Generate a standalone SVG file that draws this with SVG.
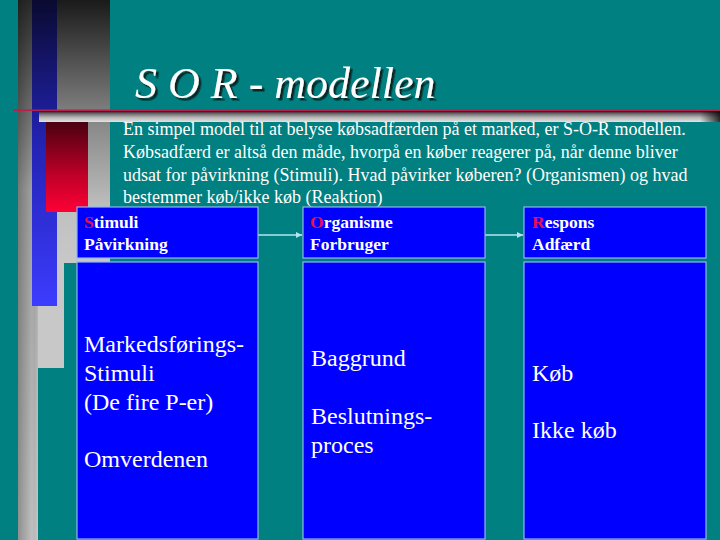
<svg xmlns="http://www.w3.org/2000/svg" width="720" height="540" viewBox="0 0 720 540">
  <defs>
    <linearGradient id="gCol" x1="0" y1="0" x2="0" y2="1">
      <stop offset="0" stop-color="#2a2a2a"/>
      <stop offset="0.35" stop-color="#a0a0a0"/>
      <stop offset="1" stop-color="#c0c0c0"/>
    </linearGradient>
    <linearGradient id="gColH" x1="0" y1="0" x2="1" y2="0">
      <stop offset="0" stop-color="#000" stop-opacity="0.25"/>
      <stop offset="0.7" stop-color="#000" stop-opacity="0"/>
      <stop offset="1" stop-color="#fff" stop-opacity="0.15"/>
    </linearGradient>
    <linearGradient id="gGray" x1="0" y1="0" x2="0" y2="1">
      <stop offset="0" stop-color="#1a1a1a"/>
      <stop offset="0.45" stop-color="#858585"/>
      <stop offset="0.8" stop-color="#c0c0c0"/>
      <stop offset="1" stop-color="#c8c8c8"/>
    </linearGradient>
    <linearGradient id="gBlue" x1="0" y1="0" x2="0" y2="1">
      <stop offset="0" stop-color="#0a0a30"/>
      <stop offset="0.45" stop-color="#2222b0"/>
      <stop offset="1" stop-color="#3c3cff"/>
    </linearGradient>
    <linearGradient id="gRed" x1="0" y1="0" x2="0" y2="1">
      <stop offset="0" stop-color="#4a0010"/>
      <stop offset="0.6" stop-color="#c00028"/>
      <stop offset="1" stop-color="#ff0036"/>
    </linearGradient>
    <linearGradient id="gBar" x1="0" y1="0" x2="0" y2="1">
      <stop offset="0" stop-color="#3a0a22"/>
      <stop offset="0.25" stop-color="#6e6e6e"/>
      <stop offset="0.6" stop-color="#b8b8b8"/>
      <stop offset="1" stop-color="#e4e4e4"/>
    </linearGradient>
    <linearGradient id="gBarEnd" x1="0" y1="0" x2="1" y2="0">
      <stop offset="0" stop-color="#000" stop-opacity="0"/>
      <stop offset="1" stop-color="#000" stop-opacity="0.8"/>
    </linearGradient>
    <filter id="shadow" x="-5%" y="-20%" width="115%" height="150%">
      <feDropShadow dx="2.5" dy="2.5" stdDeviation="0.6" flood-color="#101010" flood-opacity="0.8"/>
    </filter>
    <marker id="arr" viewBox="0 0 10 10" refX="10" refY="5" markerWidth="6" markerHeight="6" markerUnits="userSpaceOnUse" orient="auto">
      <path d="M0,0 L10,5 L0,10 z" fill="#b4e4f0"/>
    </marker>
  </defs>
  <style>
    .box { fill: #0000ff; stroke: #8fb8ee; stroke-width: 1.2; }
    .head { font-family: "Liberation Serif", "Times New Roman", serif; font-weight: bold; font-size: 17.5px; fill: #ffffff; }
    .red { fill: #e8104a; }
    .body { font-family: "Liberation Serif", "Times New Roman", serif; font-size: 24px; fill: #ffffff; }
    .intro { font-family: "Liberation Serif", "Times New Roman", serif; font-size: 18px; fill: #ffffff; }
    .title { font-family: "Liberation Serif", "Times New Roman", serif; font-style: italic; font-size: 44px; fill: #ffffff; }
    .conn { stroke: #b4e4f0; stroke-width: 1.5; fill: none; }
  </style>

  <rect x="0" y="0" width="720" height="540" fill="#008080"/>

  <g id="decoration">
    <rect x="25" y="0" width="85" height="263" fill="url(#gGray)"/>
    <rect x="34" y="263" width="30" height="105" fill="#c8c8c8"/>
    <rect x="18" y="0" width="20" height="540" fill="url(#gCol)"/>
    <rect x="18" y="0" width="20" height="540" fill="url(#gColH)"/>
    <rect x="32" y="0" width="25" height="306" fill="url(#gBlue)"/>
    <rect x="46" y="122" width="42" height="90" fill="url(#gRed)"/>
    <rect x="13" y="109.5" width="707" height="1.6" fill="#b8204c"/>
    <rect x="39" y="111" width="681" height="11" fill="url(#gBar)"/>
    <rect x="700" y="111" width="20" height="11" fill="url(#gBarEnd)"/>
  </g>

  <g id="title">
    <text class="title" x="135" y="98" filter="url(#shadow)">S O R - modellen</text>
  </g>

  <g id="intro">
    <text class="intro" x="123" y="135">En simpel model til at belyse købsadfærden på et marked, er S-O-R modellen.</text>
    <text class="intro" x="123" y="158">Købsadfærd er altså den måde, hvorpå en køber reagerer på, når denne bliver</text>
    <text class="intro" x="123" y="180.5">udsat for påvirkning (Stimuli). Hvad påvirker køberen? (Organismen) og hvad</text>
    <text class="intro" x="123" y="202.5">bestemmer køb/ikke køb (Reaktion)</text>
  </g>

  <g id="connectors">
    <line class="conn" x1="258" y1="235" x2="302" y2="235" marker-end="url(#arr)"/>
    <line class="conn" x1="485" y1="235" x2="523" y2="235" marker-end="url(#arr)"/>
  </g>

  <g id="node-stimuli">
    <rect class="box" x="77" y="207" width="181" height="51"/>
    <text class="head" x="84" y="228"><tspan class="red">S</tspan>timuli</text>
    <text class="head" x="84" y="250">Påvirkning</text>
  </g>
  <g id="node-organisme">
    <rect class="box" x="303" y="207" width="182" height="51"/>
    <text class="head" x="310" y="228"><tspan class="red">O</tspan>rganisme</text>
    <text class="head" x="310" y="250">Forbruger</text>
  </g>
  <g id="node-respons">
    <rect class="box" x="524" y="207" width="182" height="51"/>
    <text class="head" x="532" y="228"><tspan class="red">R</tspan>espons</text>
    <text class="head" x="532" y="250">Adfærd</text>
  </g>

  <g id="node-stimuli-detail">
    <rect class="box" x="77" y="262" width="181" height="277"/>
    <text class="body" x="84" y="352">Markedsførings-</text>
    <text class="body" x="84" y="381">Stimuli</text>
    <text class="body" x="84" y="410">(De fire P-er)</text>
    <text class="body" x="84" y="467">Omverdenen</text>
  </g>
  <g id="node-organisme-detail">
    <rect class="box" x="303" y="262" width="182" height="277"/>
    <text class="body" x="311" y="366">Baggrund</text>
    <text class="body" x="311" y="424">Beslutnings-</text>
    <text class="body" x="311" y="453">proces</text>
  </g>
  <g id="node-respons-detail">
    <rect class="box" x="524" y="262" width="182" height="277"/>
    <text class="body" x="532" y="381">Køb</text>
    <text class="body" x="532" y="438">Ikke køb</text>
  </g>
</svg>
